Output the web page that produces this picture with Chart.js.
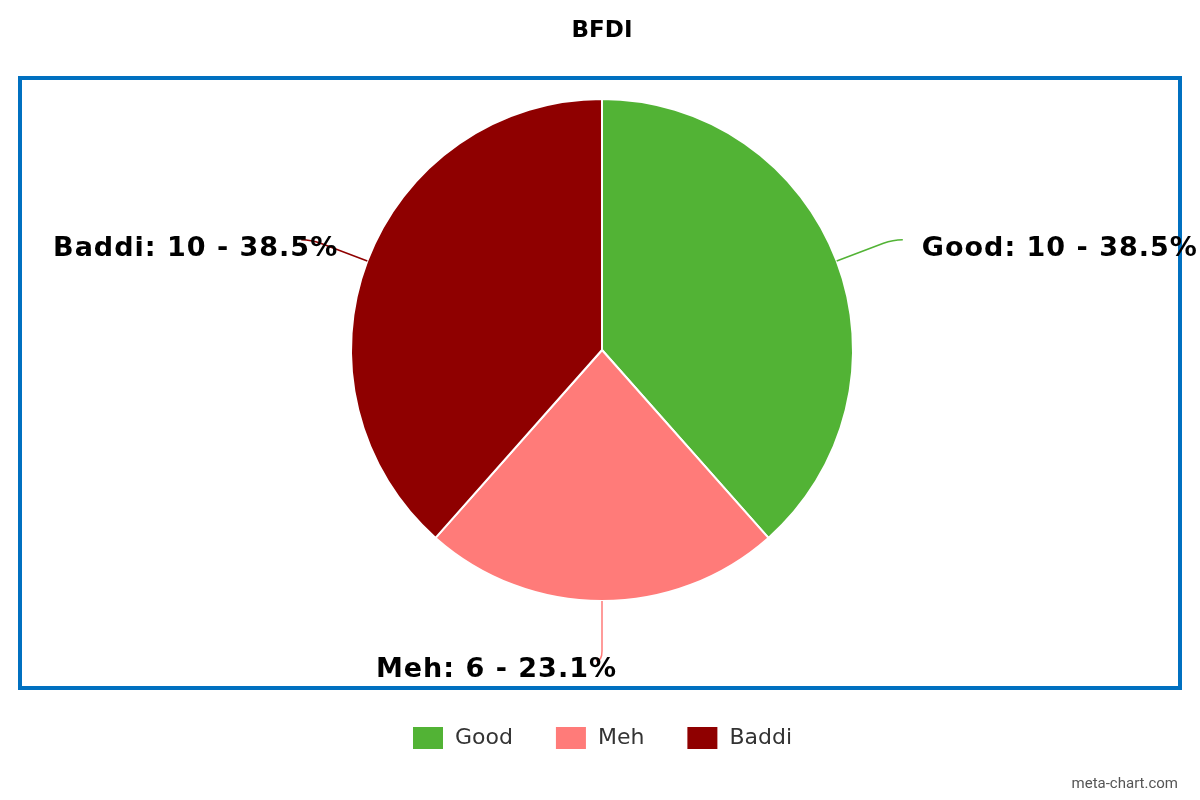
<!DOCTYPE html>
<html>
<head>
<meta charset="utf-8">
<title>BFDI</title>
<script src="https://cdn.jsdelivr.net/npm/chart.js@4/dist/chart.umd.min.js"></script>
<style>
  html, body { margin: 0; padding: 0; background: #fff; }
  #wrap { width: 1200px; height: 800px; }
</style>
</head>
<body>
<div id="wrap"><canvas id="pie" width="1200" height="800"></canvas></div>
<script>
const title = "BFDI";
const categories = ["Good", "Meh", "Baddi"];
const counts = [10, 6, 10];
const colors = ["#52b335", "#ff7b79", "#8f0000"];

const total = counts.reduce((s, v) => s + v, 0);
const FONT = "'DejaVu Sans', Verdana, sans-serif";

// blue frame + watermark
const framePlugin = {
  id: "frame",
  beforeDraw(chart) {
    const ctx = chart.ctx;
    ctx.save();
    ctx.fillStyle = "#fff";
    ctx.fillRect(0, 0, chart.width, chart.height);
    ctx.strokeStyle = "#0070c0";
    ctx.lineWidth = 4;
    ctx.strokeRect(20, 78, 1160, 610);
    ctx.restore();
  },
  afterDraw(chart) {
    const ctx = chart.ctx;
    ctx.save();
    ctx.font = "15px 'Liberation Sans Narrow', 'Roboto', sans-serif";
    ctx.fillStyle = "#555";
    ctx.textAlign = "right";
    ctx.textBaseline = "middle";
    ctx.fillText("meta-chart.com", 1178, 784);
    ctx.restore();
  },
};

// outside labels with leader lines
const labelPlugin = {
  id: "outLabels",
  afterDatasetsDraw(chart) {
    const ctx = chart.ctx;
    const meta = chart.getDatasetMeta(0);
    ctx.save();
    meta.data.forEach((arc, i) => {
      const { x, y, startAngle, endAngle, outerRadius } = arc.getProps(
        ["x", "y", "startAngle", "endAngle", "outerRadius"], true);
      const a = (startAngle + endAngle) / 2;
      const cos = Math.cos(a), sin = Math.sin(a);
      const L = 60;
      const p0 = { x: x + outerRadius * cos, y: y + outerRadius * sin };
      const pb = { x: p0.x + (L - 10) * cos, y: p0.y + (L - 10) * sin };
      const p1 = { x: p0.x + L * cos, y: p0.y + L * sin };
      const right = cos > 0.05;
      const bottom = Math.abs(cos) <= 0.3;
      const dx = bottom ? 6 : 10;
      const p2 = { x: p1.x + (right ? dx : -dx), y: p1.y };

      ctx.strokeStyle = colors[i];
      ctx.lineWidth = 1.5;
      ctx.beginPath();
      ctx.moveTo(p0.x, p0.y);
      ctx.lineTo(pb.x, pb.y);
      ctx.quadraticCurveTo(p1.x, p1.y, p2.x, p2.y);
      ctx.stroke();

      const pct = (counts[i] / total * 100).toFixed(1);
      const txt = `${categories[i]}: ${counts[i]} - ${pct}%`;
      ctx.font = `bold 27px ${FONT}`;
      ctx.letterSpacing = "1px";
      ctx.fillStyle = "#000";
      ctx.textBaseline = "middle";
      if (right) {
        ctx.textAlign = "left";
        ctx.fillText(txt, p2.x + 19, p2.y + 9);
      } else {
        ctx.textAlign = "right";
        ctx.fillText(txt, p2.x + (bottom ? 21 : 37), p2.y + 9);
      }
    });
    ctx.restore();
  },
};

new Chart(document.getElementById("pie"), {
  type: "pie",
  data: {
    labels: categories,
    datasets: [{
      data: counts,
      backgroundColor: colors,
      borderColor: "#fff",
      borderWidth: 2,
      radius: 251,
    }],
  },
  options: {
    responsive: false,
    animation: false,
    layout: { padding: { left: 4, right: 0, top: 0, bottom: 40 } },
    plugins: {
      title: {
        display: true,
        text: title,
        color: "#000",
        font: { family: FONT, size: 23, weight: "bold", lineHeight: 1.2 },
        padding: { top: 17, bottom: 17 },
      },
      legend: {
        position: "bottom",
        title: { display: true, text: "", font: { size: 12, lineHeight: 1.2 }, padding: { top: 31.2, bottom: 0 } },
        labels: {
          boxWidth: 32,
          boxHeight: 24,
          padding: 42,
          color: "#333",
          font: { family: FONT, size: 22 },
        },
      },
      tooltip: { enabled: false },
    },
  },
  plugins: [framePlugin, labelPlugin],
});
</script>
</body>
</html>
